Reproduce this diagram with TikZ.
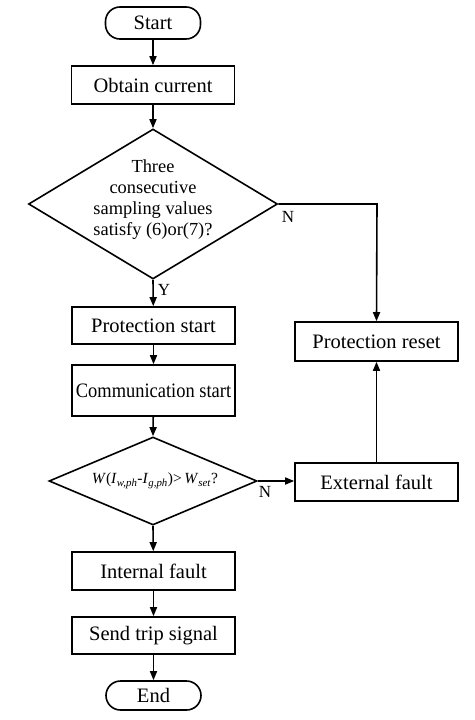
\documentclass[tikz,border=0pt]{standalone}
\usepackage{fontspec}
\setmainfont{Liberation Serif}
\usetikzlibrary{shapes.geometric,arrows.meta}
\begin{document}
\begin{tikzpicture}[x=1pt,y=-1pt,
  box/.style={draw,line width=1.6pt,rectangle,minimum width=163pt,inner sep=0pt,
    font=\fontsize{20.5}{24}\selectfont},
  term/.style={draw,line width=1.6pt,rectangle,rounded corners=14.5pt,minimum width=95pt,inner sep=0pt,
    font=\fontsize{20.5}{24}\selectfont},
  dia/.style={draw,line width=1.6pt,diamond,inner sep=0pt},
  lbl/.style={font=\fontsize{17}{20}\selectfont,inner sep=0pt},
  arr/.style={line width=1.6pt,-{Triangle[length=9pt,width=7pt]}},
  ln/.style={line width=1.6pt}]
\useasboundingbox (0,0) rectangle (474,720);
\node[term,minimum height=32pt] (start) at (153,23) {Start};
\node[box,minimum height=38pt] (obtain) at (153,85) {Obtain current};
\node[dia,minimum width=249pt,minimum height=150pt] (d1) at (153,204) {};
\node[align=center,inner sep=0pt,font=\fontsize{18.4}{21}\selectfont] (d1t) at (153,200) {Three\\consecutive\\sampling values\\satisfy (6)or(7)?};
\node[box,minimum height=37pt] (pstart) at (153.5,325.5) {Protection start};
\node[box,minimum height=51pt] (cstart) at (153.5,390.5) {\scalebox{0.9}[1]{Communication start}};
\node[dia,minimum width=208pt,minimum height=88pt] (d2) at (153,481) {};
\node[inner sep=0pt,font=\fontsize{15.5}{18}\selectfont] (d2t) at (155,481) {\textit{W}(\textit{I}\textsubscript{\textit{w,ph}}-\textit{I}\textsubscript{\textit{g,ph}})>\,\textit{W}\textsubscript{\textit{set}}?};
\node[box,minimum height=38pt] (ifault) at (153.5,571) {Internal fault};
\node[box,minimum height=37pt] (trip) at (153.5,635.5) {Send trip signal};
\node[term,minimum height=29pt] (end) at (153.5,695.5) {End};
\node[box,minimum height=39pt] (reset) at (376.5,341.5) {Protection reset};
\node[box,minimum height=38pt] (efault) at (376.5,482) {External fault};
\coordinate (c1) at (377,204);
\draw[arr] (start) -- (obtain);
\draw[arr] (obtain) -- (d1.north);
\draw[arr] (d1.south) -- (pstart);
\draw[arr] (pstart) -- (cstart);
\draw[arr] (cstart) -- (d2.north);
\draw[arr] (d2.south) -- (ifault);
\draw[arr] (ifault) -- (trip);
\draw[arr] (trip) -- (end);
\draw[arr] (d1.east) -- (c1) -- (reset.north);
\draw[arr] (d2.east) -- (efault.west |- d2.east);
\draw[arr] (efault) -- (reset);
\node[lbl] (n1) at (288,217) {N};
\node[lbl] (y1) at (164,290) {Y};
\node[lbl] (n2) at (265,492) {N};
\end{tikzpicture}
\end{document}
